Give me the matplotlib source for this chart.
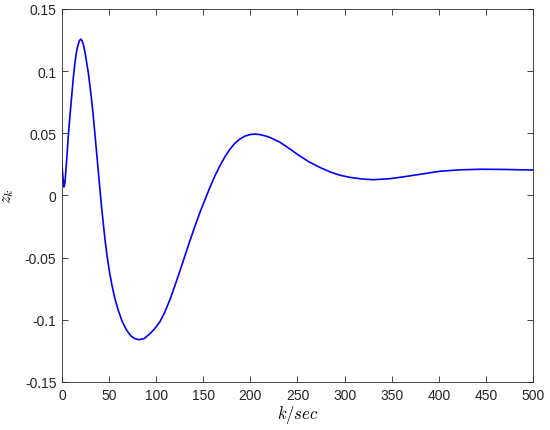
import matplotlib
matplotlib.use("Agg")
import matplotlib.pyplot as plt

# values
k = [0, 1.0, 2.1, 3.2, 4.2, 5.4, 6.7, 8.5, 10.3, 12.0, 13.8, 15.2, 16.5, 18.2,
     19.8, 21.4, 23.0, 24.6, 26.2, 28.0, 29.7, 31.5, 33.2, 35.0, 36.8, 38.6,
     40.3, 42.0, 43.8, 45.6, 47.5, 50.0, 52.8, 56.0, 59.8, 64.0, 68.7, 73.0,
     77.0, 81.7, 87.0, 93.4, 98.5, 104.0, 109.0, 114.6, 120.0, 125.3, 130.5,
     135.9, 141.0, 146.5, 152.0, 157.0, 162.5, 167.7, 173.0, 178.3, 183.5,
     189.0, 194.0, 199.6, 205.0, 210.0, 215.5, 221.0, 231.0, 242.0, 252.0,
     263.0, 274.0, 284.5, 295.0, 305.7, 318.0, 330.5, 348.0, 366.0, 384.0,
     401.0, 422.0, 444.0, 465.0, 485.0, 500.0]
z = [0.0248, 0.0150, 0.0068, 0.0105, 0.0208, 0.0330, 0.0477, 0.0645, 0.0800,
     0.0945, 0.1070, 0.1145, 0.1195, 0.1240, 0.1258, 0.1245, 0.1205, 0.1145,
     0.1070, 0.0985, 0.0880, 0.0765, 0.0638, 0.0492, 0.0342, 0.0192, 0.0046,
     -0.0090, -0.0223, -0.0350, -0.0465, -0.0595, -0.0712, -0.0825, -0.0925,
     -0.1015, -0.1085, -0.1128, -0.1150, -0.1160, -0.1152, -0.1112, -0.1070,
     -0.1015, -0.0940, -0.0838, -0.0722, -0.0605, -0.0485, -0.0362, -0.0250,
     -0.0135, -0.0030, 0.0065, 0.0160, 0.0240, 0.0312, 0.0372, 0.0420, 0.0455,
     0.0477, 0.0490, 0.0494, 0.0490, 0.0480, 0.0466, 0.0430, 0.0374, 0.0320,
     0.0267, 0.0225, 0.0190, 0.0163, 0.0146, 0.0133, 0.0127, 0.0135, 0.0154,
     0.0175, 0.0195, 0.0206, 0.0211, 0.0210, 0.0207, 0.0205]

x_ticks = list(range(0, 501, 50))
y_ticks = [-0.15, -0.1, -0.05, 0, 0.05, 0.1, 0.15]
y_tick_labels = ["-0.15", "-0.1", "-0.05", "0", "0.05", "0.1", "0.15"]

plt.rcParams['font.family'] = ['Liberation Sans', 'DejaVu Sans']
plt.rcParams['mathtext.fontset'] = 'cm'

fig = plt.figure(figsize=(5.5, 4.31), dpi=100)
ax = fig.add_axes([0.1127, 0.1114, 0.8564, 0.8654])
ax.plot(k, z, color=(0, 0, 1), lw=1.2, solid_joinstyle='round')

ax.set_xlim(0, 500)
ax.set_ylim(-0.15, 0.15)
ax.set_xticks(x_ticks)
ax.set_yticks(y_ticks)
ax.set_yticklabels(y_tick_labels)
ax.tick_params(direction='in', top=True, right=True, length=4, width=0.6,
               labelsize=10, colors='#262626', pad=4)
for s in ax.spines.values():
    s.set_color('#262626')
    s.set_linewidth(0.6)

ax.set_xlabel(r'$k/sec$', fontsize=12, labelpad=1)
ax.set_ylabel(r'$z_k$', fontsize=12, labelpad=6)

fig.savefig('out.png', dpi=100)
